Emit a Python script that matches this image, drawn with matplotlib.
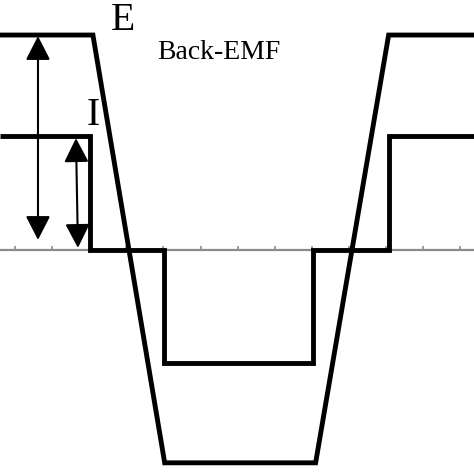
import matplotlib.pyplot as plt

# electrical angle (deg) and normalised amplitude
emf_angle = [-12, 63, 121, 243, 302, 371]
emf_value = [1.0, 1.0, -0.99, -0.99, 1.0, 1.0]

cur_edges = [-12, 60.5, 120.5, 241, 302, 371]
cur_value = [0.53, 0.0, -0.525, 0.0, 0.53]

tick_angles = list(range(0, 361, 30))

fig = plt.figure(figsize=(4.74, 4.74), dpi=100)
ax = fig.add_axes([0, 0, 1, 1])
ax.set_xlim(-12.1, 371)
ax.set_ylim(-1.042, 1.163)
ax.axis("off")

# zero line with little tick marks
ax.axhline(0, color="#8c8c8c", lw=1.6, zorder=1)
ax.vlines(tick_angles, 0, 0.018, color="#8c8c8c", lw=1.2, zorder=1)

ax.plot(emf_angle, emf_value, color="black", lw=3.5, solid_joinstyle="miter", zorder=3)
ax.stairs(cur_value, cur_edges, color="black", lw=3.5, baseline=None, zorder=3)

# amplitude arrows
arrow = dict(arrowstyle="<|-|>,head_length=0.82,head_width=0.42", color="black",
             lw=1.5, shrinkA=0, shrinkB=0, mutation_scale=18)
ax.annotate("", xy=(18.6, 0.995), xytext=(18.6, 0.047), arrowprops=arrow)
ax.annotate("", xy=(49.3, 0.52), xytext=(50.9, 0.01), arrowprops=arrow)

serif = "Liberation Serif"
ax.text(87.3, 1.023, "E", ha="center", va="baseline", fontsize=28.5, family=serif)
ax.text(63, 0.581, "I", ha="center", va="baseline", fontsize=28.5, family=serif)
ax.text(115.0, 0.888, "Back-EMF", ha="left", va="baseline", fontsize=20, family=serif)

fig.savefig("out.png", dpi=100)
